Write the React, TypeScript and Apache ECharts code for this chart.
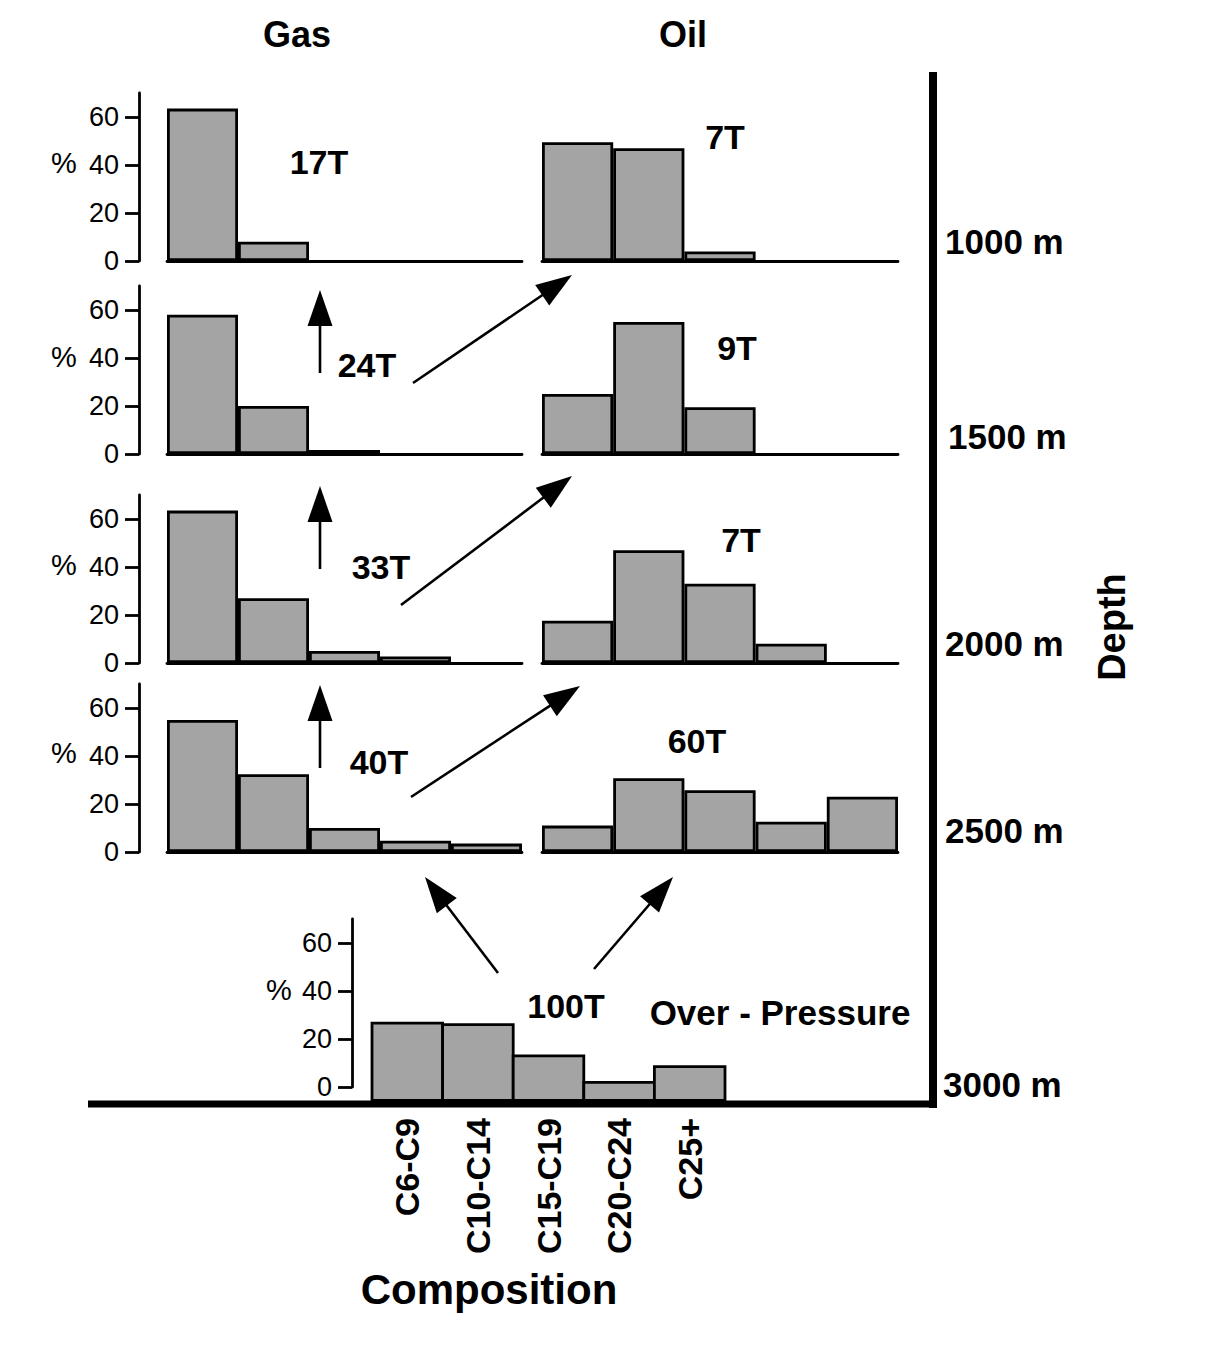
import React, { useEffect, useRef } from "react";
import * as echarts from "echarts";

// Carbon-number classes shared by every histogram
const CATEGORIES = ["C6-C9", "C10-C14", "C15-C19", "C20-C24", "C25+"];

// Composition (%) of the expelled gas-phase and oil-phase hydrocarbons by depth
const GAS_1000 = [63.5, 8, null, null, null];
const OIL_1000 = [49.5, 47, 4, null, null];
const GAS_1500 = [58, 20, 1.7, null, null];
const OIL_1500 = [25, 55, 19.5, null, null];
const GAS_2000 = [63.5, 27, 5, 2.7, null];
const OIL_2000 = [17.6, 47, 33, 8, null];
const GAS_2500 = [55, 32.4, 10, 4.7, 3.5];
const OIL_2500 = [11, 30.7, 25.7, 12.6, 23];
// Over-pressured source composition (values read against its own % axis)
const SOURCE = [26.6, 26, 13, 1.9, 8.5];

// Tonnages
const GAS_AMOUNTS = ["17T", "24T", "33T", "40T"];
const OIL_AMOUNTS = ["7T", "9T", "7T", "60T"];
const SOURCE_AMOUNT = "100T";

// Depth annotations and y ticks
const DEPTH_LABELS = ["1000 m", "1500 m", "2000 m", "2500 m", "3000 m"];
const PCT_TICKS = [0, 20, 40, 60];

const FONT = "'Liberation Sans', Arial, Helvetica, sans-serif";
const BAR_FILL = "#a4a4a4";
const PX_PER_PCT = 2.4;
const AXIS_MAX = 70;
const PANEL_H = AXIS_MAX * PX_PER_PCT;
const LINE_W = 2.8;

function arrow(x1: number, y1: number, x2: number, y2: number) {
  const len = Math.hypot(x2 - x1, y2 - y1);
  const ux = (x2 - x1) / len;
  const uy = (y2 - y1) / len;
  const headL = 36;
  const headW = 12.5;
  const bx = x2 - ux * headL;
  const by = y2 - uy * headL;
  return [
    {
      type: "line",
      shape: { x1, y1, x2: bx + ux * 4, y2: by + uy * 4 },
      style: { stroke: "#000", lineWidth: 2.6 },
      silent: true,
    },
    {
      type: "polygon",
      shape: {
        points: [
          [x2, y2],
          [bx - uy * headW, by + ux * headW],
          [bx + uy * headW, by - ux * headW],
        ],
      },
      style: { fill: "#000" },
      silent: true,
    },
  ];
}

function text(
  str: string,
  x: number,
  y: number,
  size: number,
  bold = true,
  align = "center",
  rotation = 0
) {
  return {
    type: "text",
    x,
    y,
    rotation,
    silent: true,
    style: {
      text: str,
      fill: "#000",
      font: `${bold ? "bold " : ""}${size}px ${FONT}`,
      textAlign: align,
      textVerticalAlign: "middle",
    },
  };
}

export default function App() {
  const ref = useRef<HTMLDivElement>(null);

  useEffect(() => {
    if (!ref.current) return;
    const chart = echarts.init(ref.current, undefined, { renderer: "svg" });

    const rows = [
      { gas: GAS_1000, oil: OIL_1000, zeroY: 261 },
      { gas: GAS_1500, oil: OIL_1500, zeroY: 454 },
      { gas: GAS_2000, oil: OIL_2000, zeroY: 663 },
      { gas: GAS_2500, oil: OIL_2500, zeroY: 852 },
    ];

    const grid: any[] = [];
    const xAxis: any[] = [];
    const yAxis: any[] = [];
    const series: any[] = [];

    const barStyle = { color: BAR_FILL, borderColor: "#000", borderWidth: LINE_W };

    const pctAxis = (idx: number, show: boolean, offset: number) => ({
      type: "value",
      gridIndex: idx,
      min: 0,
      max: AXIS_MAX,
      interval: 20,
      show,
      offset,
      splitLine: { show: false },
      axisLine: { show: true, lineStyle: { color: "#000", width: LINE_W } },
      axisTick: {
        show: true,
        length: 14,
        customValues: PCT_TICKS,
        lineStyle: { color: "#000", width: LINE_W },
      },
      axisLabel: {
        customValues: PCT_TICKS,
        margin: 20,
        color: "#000",
        fontSize: 27,
        fontFamily: FONT,
      },
    });

    const addPanel = (
      values: (number | null)[],
      left: number,
      width: number,
      zeroY: number,
      showY: boolean,
      yOffset: number
    ) => {
      const idx = grid.length;
      grid.push({ left, width, top: zeroY - PANEL_H, height: PANEL_H });
      xAxis.push({
        type: "category",
        gridIndex: idx,
        data: CATEGORIES,
        boundaryGap: true,
        axisLine: { show: true, lineStyle: { color: "#000", width: LINE_W } },
        axisTick: { show: false },
        axisLabel: { show: false },
      });
      yAxis.push(pctAxis(idx, showY, yOffset));
      series.push({
        type: "bar",
        xAxisIndex: idx,
        yAxisIndex: idx,
        data: values,
        barCategoryGap: "0%",
        itemStyle: barStyle,
        silent: true,
      });
    };

    rows.forEach((r) => {
      addPanel(r.gas, 167, 355, r.zeroY, true, 28);
      addPanel(r.oil, 542, 356, r.zeroY, false, 0);
    });

    // Source panel: bars rise from the thick baseline below its 0 tick
    const sIdx = grid.length;
    const sourceZero = 1087;
    const baselineTop = 1100.5;
    const floorPct = -(baselineTop - sourceZero) / PX_PER_PCT;
    grid.push({ left: 372, width: 353, top: sourceZero - PANEL_H, height: PANEL_H });
    xAxis.push({
      type: "category",
      gridIndex: sIdx,
      data: CATEGORIES,
      axisLine: { show: false },
      axisTick: { show: false },
      axisLabel: {
        interval: 0,
        rotate: 90,
        margin: 31,
        color: "#000",
        fontSize: 34,
        fontWeight: "bold",
        fontFamily: FONT,
      },
    });
    yAxis.push(pctAxis(sIdx, true, 20));
    series.push({
      type: "custom",
      xAxisIndex: sIdx,
      yAxisIndex: sIdx,
      clip: false,
      silent: true,
      data: SOURCE.map((v, i) => [i, v]),
      encode: { x: 0, y: 1 },
      renderItem: (_params: any, api: any) => {
        const i = api.value(0);
        const v = api.value(1);
        const top = api.coord([i, v]);
        const base = api.coord([i, floorPct]);
        const w = api.size([1, 0])[0];
        return {
          type: "rect",
          shape: { x: top[0] - w / 2, y: top[1], width: w, height: base[1] - top[1] },
          style: { fill: BAR_FILL, stroke: "#000", lineWidth: LINE_W },
        };
      },
    });

    const gasLabelPos = [
      [319, 162],
      [367, 365],
      [381, 567],
      [379, 762],
    ];
    const oilLabelPos = [
      [725, 137],
      [737, 348],
      [741, 540],
      [697, 741],
    ];
    const pctY = [163, 357, 565, 753];
    const depthY = [241, 436, 643, 830, 1084];
    const depthX = [945, 948, 945, 945, 943];

    const graphic: any[] = [
      // Frame: depth line and surface baseline
      {
        type: "line",
        shape: { x1: 933, y1: 72, x2: 933, y2: 1108 },
        style: { stroke: "#000", lineWidth: 8 },
        silent: true,
      },
      {
        type: "line",
        shape: { x1: 88, y1: 1104, x2: 937, y2: 1104 },
        style: { stroke: "#000", lineWidth: 7 },
        silent: true,
      },
      text("Gas", 297, 34, 36),
      text("Oil", 683, 34, 36),
      text("Depth", 1112, 627, 38, true, "center", Math.PI / 2),
      text("Composition", 489, 1289, 42),
      text(SOURCE_AMOUNT, 566, 1006, 34),
      text("Over - Pressure", 780, 1012, 35),
      text("%", 279, 990, 29, false),
      ...GAS_AMOUNTS.map((t, i) => text(t, gasLabelPos[i][0], gasLabelPos[i][1], 34)),
      ...OIL_AMOUNTS.map((t, i) => text(t, oilLabelPos[i][0], oilLabelPos[i][1], 34)),
      ...pctY.map((y) => text("%", 64, y, 29, false)),
      ...DEPTH_LABELS.map((t, i) => text(t, depthX[i], depthY[i], 35, true, "left")),
      // Migration arrows
      ...arrow(320, 373, 320, 290),
      ...arrow(320, 569, 320, 486),
      ...arrow(320, 768, 320, 685),
      ...arrow(413, 383, 572, 275),
      ...arrow(401, 605, 572, 476),
      ...arrow(411, 797, 580, 686),
      ...arrow(498, 973, 425, 877),
      ...arrow(594, 969, 673, 877),
    ];

    chart.setOption({
      animation: false,
      backgroundColor: "#fff",
      grid,
      xAxis,
      yAxis,
      series,
      graphic,
    });

    return () => chart.dispose();
  }, []);

  return (
    <div
      ref={ref}
      style={{ position: "absolute", left: 0, top: 0, width: 1225, height: 1347 }}
    />
  );
}
